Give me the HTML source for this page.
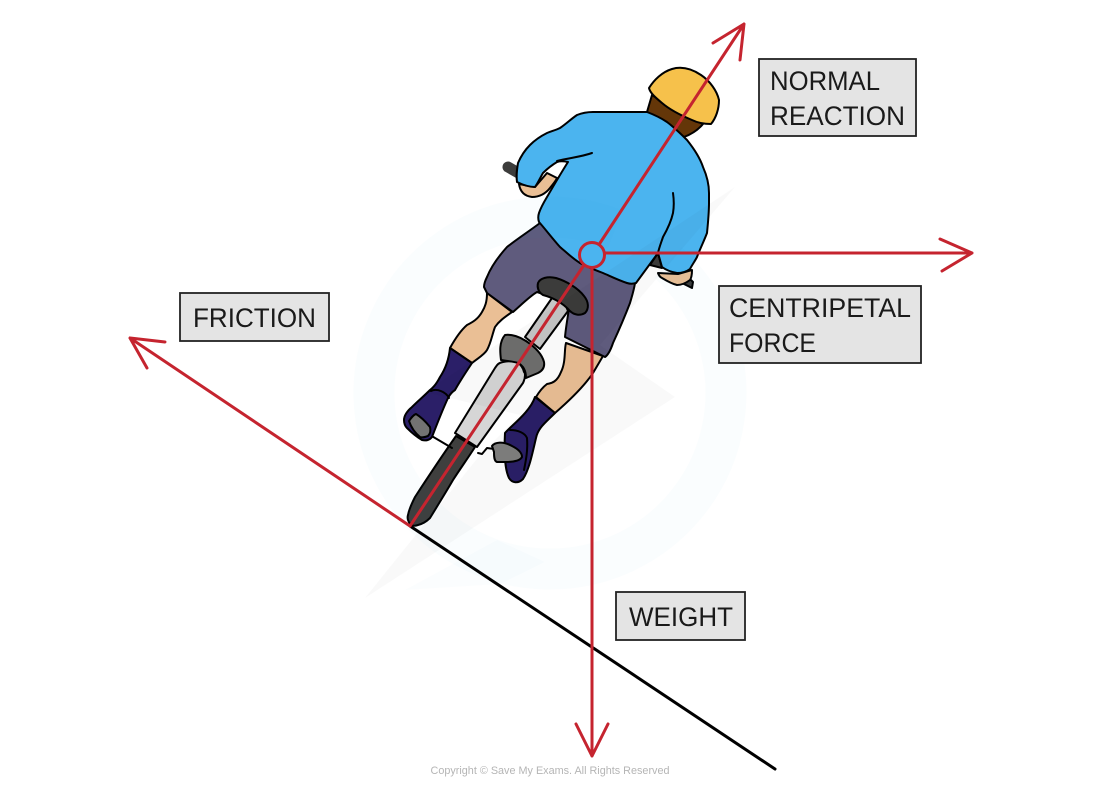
<!DOCTYPE html>
<html><head><meta charset="utf-8"><style>
html,body{margin:0;padding:0;background:#fff}
svg{display:block}
text{font-family:"Liberation Sans",sans-serif}
.l{font-size:27px;fill:#1a1a1a}
.b{fill:#e4e4e4;stroke:#222;stroke-width:1.8}
.k{stroke:#000;stroke-width:2;stroke-linejoin:round;stroke-linecap:round}
.r{stroke:#c5242f;stroke-width:3;fill:none;stroke-linecap:round;stroke-linejoin:round}
</style></head><body>
<svg width="1100" height="786" viewBox="0 0 1100 786" xmlns="http://www.w3.org/2000/svg">
<rect width="1100" height="786" fill="#fff"/>
<!-- handlebars -->
<path d="M508 167 L522 175" stroke="#3c3c3b" stroke-width="11" stroke-linecap="round" fill="none"/>
<path class="k" d="M682 283 L692 288 L693 282 L688 277 Z" fill="#3c3c3b"/>
<path class="k" d="M650 265 L658 253 L662 268 Z" fill="#3c3c3b"/>
<!-- wheel -->
<path class="k" d="M456 436 L475 447 C468 458 460 469 453 480 C446 492 438 505 430 518 C426 522 422 524 418 525 C415 526 413 526 411 525 C408 522 407 518 408 515 C409 509 412 503 415 497 C428 477 442 456 456 436 Z" fill="#3f3f3e"/>
<!-- crank lines -->
<path class="k" d="M430 435 L452 448 M478 453 L482 454 L487 448 L494 449" fill="none" stroke-width="1.6"/>
<!-- top tube -->
<path class="k" d="M525 337 L540 349 L568 311 L562 297 L552 298 Z" fill="#c6c6c6"/>
<!-- down tube -->
<path class="k" d="M455 433 L477 447 L523 383 C526 377 525 372 524 372 C523 367 520 364 517 362 C512 361 507 361 503 362 C498 363 497 365 495 368 Z" fill="#d6d6d6"/>
<!-- head tube grey -->
<path class="k" d="M505 335 C512 334 520 337 526 341 C535 347 542 354 544 362 C545 368 542 371 538 373 L526 378 C526 372 524 366 518 363 C512 361 506 361 501 360 C500 352 499 342 505 335 Z" fill="#6f6f6e"/>
<!-- left leg -->
<path class="k" d="M487 293 C487 302 485 307 482 312 C478 319 473 322 467 325 C460 331 455 339 450 348 L472 363 C478 358 484 355 487 350 C491 343 492 335 495 327 C499 321 505 317 512 312 Z" fill="#eabf95"/>
<!-- left shoe -->
<path class="k" d="M450 348 C449 358 446 368 440 377 C437 383 434 387 430 390 C424 396 418 401 412 407 C407 411 404 416 404 420 C404 423 405 426 407 428 C412 433 417 437 422 440 C426 441 430 440 432 437 C437 424 442 411 448 398 C450 394 452 392 455 390 C460 381 466 372 472 363 Z" fill="#2b1f68"/>
<path class="k" d="M431 391 C437 388 446 392 449 398" fill="none"/>
<path class="k" d="M409 421 C411 418 413 415 416 414 C421 417 426 422 430 427 C431 431 430 434 428 436 C425 437 422 438 420 437 C415 433 411 427 409 421 Z" fill="#737372"/>
<!-- right leg -->
<path class="k" d="M566 343 C564 350 566 362 561 372 C557 382 552 383 547 384 C543 387 539 392 536 397 L555 413 C570 400 585 385 593 373 L603 356 Z" fill="#eabf95"/>
<!-- right sock -->
<path class="k" d="M535 397 L555 413 C545 423 538 428 536 438 C532 455 529 470 523 479 C518 484 512 483 509 478 C505 470 504 452 505 433 C512 425 530 412 535 397 Z" fill="#2b1f68"/>
<path class="k" d="M510 430 C518 430 525 433 527 438 C528 450 526 460 524 470" fill="none"/>
<!-- right pedal -->
<path class="k" d="M492 446 C495 442 503 441 512 446 C518 449 522 453 522 457 C520 461 513 462 505 462 L497 462 C494 461 494 456 494 452 Z" fill="#7f7f7e"/>
<!-- shorts -->
<path class="k" d="M540 223 C528 232 517 239 507 247 C498 257 491 267 487 277 C485 281 484 284 484 287 L487 293 L513 312 C520 306 530 296 537 292 L570 303 C568 315 566 326 565 337 L605 357 C608 355 611 349 613 343 C619 330 625 316 630 303 C632 296 634 290 635 283 L627 283 L580 263 Z" fill="#5f5b7d"/>
<!-- saddle -->
<path class="k" d="M538 283 C540 278 548 276 556 278 C566 281 578 288 584 296 C589 302 589 309 585 313 C580 316 574 315 570 311 C562 302 551 297 543 295 C538 292 537 287 538 283 Z" fill="#3c3c3b"/>
<!-- hands -->
<path class="k" d="M519 184 C520 191 524 196 532 197 C540 197 546 193 550 188 C553 184 556 181 557 178 L547 173 L535 187 Z" fill="#eabf95"/>
<path class="k" d="M658 273 C659 276 660 277 662 278 C667 281 672 284 677 285 C682 285 686 283 690 280 C692 277 692 273 692 270 L678 274 Z" fill="#eabf95"/>
<!-- hair -->
<path class="k" d="M652 95 L647 112 C660 120 672 128 684 137 C692 134 698 130 703 124 L680 113 Z" fill="#643608"/>
<!-- helmet -->
<path class="k" d="M649 88 C654 80 662 72 672 69 C682 66 692 69 701 75 C710 81 717 91 719 100 C719 109 716 118 711 124 C705 124 698 123 692 120 C680 115 669 109 662 103 C656 98 650 93 649 88 Z" fill="#f6c14b"/>
<!-- jersey -->
<path class="k" d="M593 112 L647 112 C655 115 661 118 667 122 C675 128 681 134 687 140 C695 150 700 158 703 167 C707 176 709 185 709 193 L709 203 C709 213 708 223 707 233 C704 241 700 249 697 257 C695 261 692 265 690 269 C686 272 682 273 677 273 C671 272 666 270 662 267 L658 253 L636 283 C633 284 630 284 627 283 C618 280 610 276 603 273 C595 270 587 267 580 263 C572 258 566 252 560 247 C552 238 546 230 539 222 C538 219 538 216 539 213 C541 207 544 202 547 197 C554 185 561 173 568 162 C563 161 560 161 557 162 C552 165 547 169 543 173 C540 178 538 183 535 187 C529 187 523 185 517 182 C516 175 517 169 518 163 C521 156 525 150 530 145 C535 140 541 136 547 133 C552 131 556 130 560 128 C566 124 571 119 577 115 C582 113 588 112 593 112 Z" fill="#4bb4ef"/>
<path class="k" d="M592 153 C581 157 568 158 557 161" fill="none"/>
<path class="k" d="M673 193 C674 200 674 207 673 213 C671 222 667 230 663 237 C661 243 659 248 658 253" fill="none"/>
<!-- watermark overlay -->
<path d="M615 229.5 A176 176 0 1 0 668 262.5" fill="none" stroke="#0a80c0" stroke-opacity=".02" stroke-width="41"/>
<path d="M405 590 L497 540 L545 562 L500 584 Z" fill="#0a80c0" fill-opacity=".015"/>
<path d="M735 187 L600 345 L675 397 L365 598 L480 455 L520 415 L425 392 Z" fill="#000" fill-opacity=".022"/>
<!-- black slope -->
<path d="M410 526 L775 769" stroke="#000" stroke-width="3" fill="none" stroke-linecap="round"/>
<!-- red force lines -->
<path class="r" d="M410 526 L584 265 M600 243 L744 24 M713 43 L744 24 L740 60"/>
<path class="r" d="M605 253 L972 253 M940 239 L972 253 L942 271"/>
<path class="r" d="M592 268 L592 756 M576 724 L592 756 L608 724"/>
<path class="r" d="M410 526 L130 338 M165 342 L130 338 L147 368"/>
<circle cx="592" cy="255" r="12.5" fill="none" stroke="#c5242f" stroke-width="3"/>
<!-- labels -->
<rect class="b" x="759" y="59" width="157" height="77"/>
<text class="l" x="770" y="90" textLength="110" lengthAdjust="spacingAndGlyphs">NORMAL</text>
<text class="l" x="770" y="125" textLength="135" lengthAdjust="spacingAndGlyphs">REACTION</text>
<rect class="b" x="719" y="286" width="202" height="77"/>
<text class="l" x="729" y="317" textLength="182" lengthAdjust="spacingAndGlyphs">CENTRIPETAL</text>
<text class="l" x="729" y="352" textLength="87" lengthAdjust="spacingAndGlyphs">FORCE</text>
<rect class="b" x="180" y="293" width="149" height="48"/>
<text class="l" x="193" y="327" textLength="123" lengthAdjust="spacingAndGlyphs">FRICTION</text>
<rect class="b" x="616" y="592" width="129" height="48"/>
<text class="l" x="629" y="626" textLength="104" lengthAdjust="spacingAndGlyphs">WEIGHT</text>
<text x="550" y="774" text-anchor="middle" font-size="11" fill="#b5b5b5" textLength="239" lengthAdjust="spacingAndGlyphs">Copyright © Save My Exams. All Rights Reserved</text>
</svg>
</body></html>
